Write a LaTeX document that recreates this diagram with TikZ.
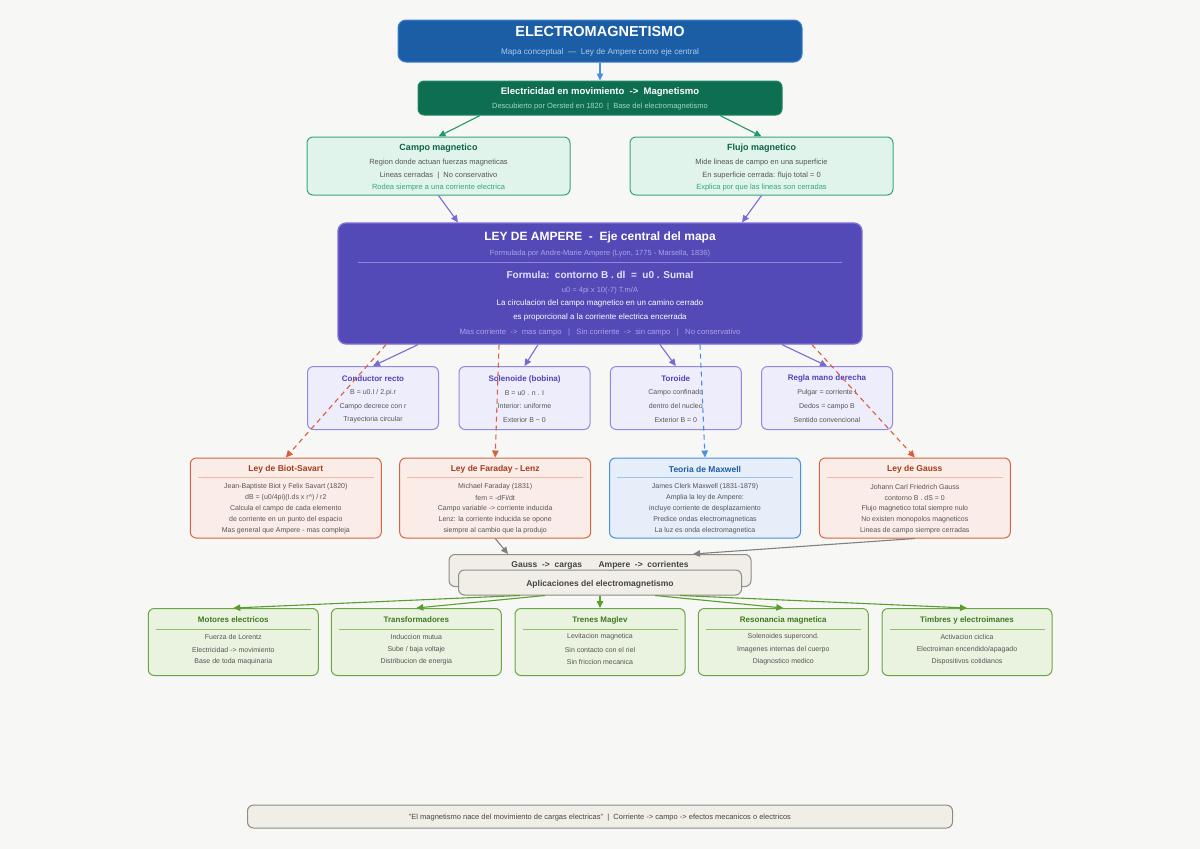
\documentclass[tikz,border=0pt]{standalone}
\usepackage{fontspec}
\setmainfont{Liberation Sans}
\usetikzlibrary{arrows.meta}
\definecolor{bg}{HTML}{F7F7F5}
\definecolor{tblue}{HTML}{1B5EA6}
\definecolor{tblueb}{HTML}{3A82D2}
\definecolor{tbluesub}{HTML}{A9CBF0}
\definecolor{ablue}{HTML}{4A90E2}
\definecolor{dgreen}{HTML}{0E6E52}
\definecolor{dgreenb}{HTML}{1F8A63}
\definecolor{dgreensub}{HTML}{9ED8BE}
\definecolor{agreen}{HTML}{1E9A6A}
\definecolor{cfill}{HTML}{E1F4EC}
\definecolor{cborder}{HTML}{3AA57D}
\definecolor{ctitle}{HTML}{0E6048}
\definecolor{cgreen}{HTML}{2DAA78}
\definecolor{txgray}{HTML}{555555}
\definecolor{pfill}{HTML}{534AB7}
\definecolor{pborder}{HTML}{7C70DA}
\definecolor{parrow}{HTML}{7B6AD6}
\definecolor{psub}{HTML}{A9A3E8}
\definecolor{pform}{HTML}{E4E1FF}
\definecolor{pline}{HTML}{8E86DC}
\definecolor{sfill}{HTML}{EEEDFB}
\definecolor{sborder}{HTML}{9389E0}
\definecolor{stitle}{HTML}{4F44B3}
\definecolor{rdash}{HTML}{D95F3B}
\definecolor{rfill}{HTML}{FAEDE7}
\definecolor{rborder}{HTML}{D8643F}
\definecolor{rtitle}{HTML}{A83A1C}
\definecolor{rsep}{HTML}{F1B7A2}
\definecolor{bfill}{HTML}{E5EEF9}
\definecolor{bsep}{HTML}{9BC3EE}
\definecolor{gfill}{HTML}{F1EEE7}
\definecolor{gborder}{HTML}{8C8C8C}
\definecolor{gtext}{HTML}{444444}
\definecolor{garrow}{HTML}{808080}
\definecolor{lfill}{HTML}{EAF3E0}
\definecolor{lborder}{HTML}{6BA644}
\definecolor{ltitle}{HTML}{3D7A1F}
\definecolor{lsep}{HTML}{8CBF66}
\definecolor{larrow}{HTML}{5A9E2F}
\newcommand{\fz}[1]{\fontsize{#1}{#1}\selectfont}
\begin{document}
\begin{tikzpicture}[x=1pt,y=-1pt,
  box/.style n args={2}{draw=#2,fill=#1,rounded corners=6pt,line width=1pt,inner sep=0pt},
  tx/.style={inner sep=0pt,anchor=center,yshift=-0.7pt},
  arr/.style={-{Triangle[length=7pt,width=6.5pt]},line width=1.1pt},
  dsh/.style={arr,dash pattern=on 5pt off 4pt},
  smallbox/.style={box={sfill}{sborder},minimum width=131pt,minimum height=63pt},
  redbox/.style={box={rfill}{rborder},minimum width=191pt,minimum height=80pt},
  appbox/.style={box={lfill}{lborder},minimum width=170pt,minimum height=67pt},
  sttl/.style={tx,font=\fz{8}\bfseries,text=stitle},
  stx/.style={tx,font=\fz{7},text=txgray},
  rttl/.style={tx,font=\fz{8.5}\bfseries,text=rtitle},
  lttl/.style={tx,font=\fz{8}\bfseries,text=ltitle},
]
\fill[bg] (0,0) rectangle (1200,849);
\useasboundingbox (0,0) rectangle (1200,849);

% ---- title
\node[box={tblue}{tblueb},rounded corners=8pt,minimum width=404pt,minimum height=42pt] (title) at (600,41) {};
\node[tx,font=\fz{14.5}\bfseries,text=white] (titlet) at (600,30.5) {ELECTROMAGNETISMO};
\node[tx,font=\fz{8.2},text=tbluesub] (titles) at (600,51.5) {Mapa conceptual~~—~~Ley de Ampere como eje central};

% ---- green header
\node[box={dgreen}{dgreenb},minimum width=364pt,minimum height=34pt] (elec) at (600,98) {};
\node[tx,font=\fz{9.5}\bfseries,text=white] (elect) at (600,91) {Electricidad en movimiento~~->~~Magnetismo};
\node[tx,font=\fz{7.5},text=dgreensub] (elecs) at (600,105.5) {Descubierto por Oersted en 1820~~|~~Base del electromagnetismo};

% ---- campo / flujo
\node[box={cfill}{cborder},minimum width=263pt,minimum height=58pt] (campo) at (438.5,166) {};
\node[tx,font=\fz{9}\bfseries,text=ctitle] (campot) at (438.5,147) {Campo magnetico};
\node[tx,font=\fz{7.5},text=txgray] (campo1) at (438.5,162) {Region donde actuan fuerzas magneticas};
\node[tx,font=\fz{7.5},text=txgray] (campo2) at (438.5,175) {Lineas cerradas~~|~~No conservativo};
\node[tx,font=\fz{7.5},text=cgreen] (campo3) at (438.5,187) {Rodea siempre a una corriente electrica};

\node[box={cfill}{cborder},minimum width=263pt,minimum height=58pt] (flujo) at (761.5,166) {};
\node[tx,font=\fz{9}\bfseries,text=ctitle] (flujot) at (761.5,147) {Flujo magnetico};
\node[tx,font=\fz{7.5},text=txgray] (flujo1) at (761.5,162) {Mide lineas de campo en una superficie};
\node[tx,font=\fz{7.5},text=txgray] (flujo2) at (761.5,175) {En superficie cerrada: flujo total = 0};
\node[tx,font=\fz{7.5},text=cgreen] (flujo3) at (761.5,187) {Explica por que las lineas son cerradas};

% ---- ampere
\node[box={pfill}{pborder},line width=1.3pt,rounded corners=8pt,minimum width=524pt,minimum height=121pt] (amp) at (600,283.5) {};
\node[tx,font=\fz{12}\bfseries,text=white] (ampt) at (600,236.8) {LEY DE AMPERE~~-~~Eje central del mapa};
\node[tx,font=\fz{7.5},text=psub] (amps) at (600,253.3) {Formulada por Andre-Marie Ampere (Lyon, 1775 - Marsella, 1836)};
\coordinate (ampl1) at (358,262);
\coordinate (ampl2) at (842,262);
\draw[pline,line width=0.9pt] (ampl1) -- (ampl2);
\node[tx,font=\fz{10}\bfseries,text=pform] (ampf) at (600,274) {Formula:~~contorno B . dl~~=~~u0 . SumaI};
\node[tx,font=\fz{7.5},text=psub] (ampu) at (600,289.5) {u0 = 4pi x 10(-7) T.m/A};
\node[tx,font=\fz{8},text=white] (ampa) at (600,303) {La circulacion del campo magnetico en un camino cerrado};
\node[tx,font=\fz{8},text=white] (ampb) at (600,316.5) {es proporcional a la corriente electrica encerrada};
\node[tx,font=\fz{7.7},text=psub] (ampc) at (600,332) {Mas corriente~~->~~mas campo~~~|~~~Sin corriente~~->~~sin campo~~~|~~~No conservativo};

% ---- small purple boxes
\node[smallbox] (cond) at (373,398) {};
\node[sttl] (condt) at (373,377.5) {Conductor recto};
\node[stx] (cond1) at (373,392) {B = u0.I / 2.pi.r};
\node[stx] (cond2) at (373,405.5) {Campo decrece con r};
\node[stx] (cond3) at (373,419) {Trayectoria circular};

\node[smallbox] (sol) at (524.5,398) {};
\node[sttl] (solt) at (524.5,378.3) {Solenoide (bobina)};
\node[stx] (sol1) at (524.5,392) {B = u0 . n . I};
\node[stx] (sol2) at (524.5,405.5) {Interior: uniforme};
\node[stx] (sol3) at (524.5,419) {Exterior B \textasciitilde{} 0};

\node[smallbox] (tor) at (675.8,398) {};
\node[sttl] (tort) at (675.8,377.5) {Toroide};
\node[stx] (tor1) at (675.8,392) {Campo confinado};
\node[stx] (tor2) at (675.8,405.5) {dentro del nucleo};
\node[stx] (tor3) at (675.8,419) {Exterior B = 0};

\node[smallbox] (reg) at (827,398) {};
\node[sttl] (regt) at (827,377.5) {Regla mano derecha};
\node[stx] (reg1) at (827,392) {Pulgar = corriente I};
\node[stx] (reg2) at (827,405.5) {Dedos = campo B};
\node[stx] (reg3) at (827,419) {Sentido convencional};

% ---- red / blue boxes
\node[redbox] (biot) at (285.8,498) {};
\node[rttl] (biott) at (285.8,468.3) {Ley de Biot-Savart};
\draw[rsep,line width=1pt] ([xshift=8pt,yshift=-20pt]biot.north west) -- ([xshift=-8pt,yshift=-20pt]biot.north east);
\node[stx] (biot1) at (285.8,486) {Jean-Baptiste Biot y Felix Savart (1820)};
\node[stx] (biot2) at (285.8,497) {dB = (u0/4pi)(I.ds x r\textasciicircum) / r2};
\node[stx] (biot3) at (285.8,508) {Calcula el campo de cada elemento};
\node[stx] (biot4) at (285.8,519) {de corriente en un punto del espacio};
\node[stx] (biot5) at (285.8,530) {Mas general que Ampere - mas compleja};

\node[redbox] (far) at (495.2,498) {};
\node[rttl] (fart) at (495.2,468.3) {Ley de Faraday - Lenz};
\draw[rsep,line width=1pt] ([xshift=8pt,yshift=-20pt]far.north west) -- ([xshift=-8pt,yshift=-20pt]far.north east);
\node[stx] (far1) at (495.2,486) {Michael Faraday (1831)};
\node[stx] (far2) at (495.2,497) {fem = -dFi/dt};
\node[stx] (far3) at (495.2,508) {Campo variable -> corriente inducida};
\node[stx] (far4) at (495.2,519) {Lenz: la corriente inducida se opone};
\node[stx] (far5) at (495.2,530) {siempre al cambio que la produjo};

\node[box={bfill}{ablue},minimum width=191pt,minimum height=80pt] (max) at (705,498) {};
\node[tx,font=\fz{8.5}\bfseries,text=tblue] (maxt) at (705,468.3) {Teoria de Maxwell};
\draw[bsep,line width=1pt] ([xshift=8pt,yshift=-20pt]max.north west) -- ([xshift=-8pt,yshift=-20pt]max.north east);
\node[stx] (max1) at (705,486) {James Clerk Maxwell (1831-1879)};
\node[stx] (max2) at (705,497) {Amplia la ley de Ampere:};
\node[stx] (max3) at (705,508) {incluye corriente de desplazamiento};
\node[stx] (max4) at (705,519) {Predice ondas electromagneticas};
\node[stx] (max5) at (705,530) {La luz es onda electromagnetica};

\node[redbox] (gau) at (914.8,498) {};
\node[rttl] (gaut) at (914.8,468.3) {Ley de Gauss};
\draw[rsep,line width=1pt] ([xshift=8pt,yshift=-20pt]gau.north west) -- ([xshift=-8pt,yshift=-20pt]gau.north east);
\node[stx] (gau1) at (914.8,486) {Johann Carl Friedrich Gauss};
\node[stx] (gau2) at (914.8,497) {contorno B . dS = 0};
\node[stx] (gau3) at (914.8,508) {Flujo magnetico total siempre nulo};
\node[stx] (gau4) at (914.8,519) {No existen monopolos magneticos};
\node[stx] (gau5) at (914.8,530) {Lineas de campo siempre cerradas};

% ---- gauss/ampere + aplicaciones
\node[box={gfill}{gborder},minimum width=302pt,minimum height=32pt] (ga) at (600,570.5) {};
\node[tx,font=\fz{8.5}\bfseries,text=gtext] (gat) at (600,565) {Gauss~~->~~cargas~~~~~~~Ampere~~->~~corrientes};
\node[box={gfill}{gborder},minimum width=283pt,minimum height=25pt] (apl) at (600,582.5) {};
\node[tx,font=\fz{8.5}\bfseries,text=gtext] (aplt) at (600,583.5) {Aplicaciones del electromagnetismo};

% ---- application boxes
\node[appbox] (mot) at (233.3,642) {};
\node[lttl] (mott) at (233.3,619.3) {Motores electricos};
\draw[lsep,line width=1pt] ([xshift=8pt,yshift=-21pt]mot.north west) -- ([xshift=-8pt,yshift=-21pt]mot.north east);
\node[stx] (mot1) at (233.3,636.3) {Fuerza de Lorentz};
\node[stx] (mot2) at (233.3,649) {Electricidad -> movimiento};
\node[stx] (mot3) at (233.3,661.3) {Base de toda maquinaria};

\node[appbox] (tra) at (416.3,642) {};
\node[lttl] (trat) at (416.3,619.3) {Transformadores};
\draw[lsep,line width=1pt] ([xshift=8pt,yshift=-21pt]tra.north west) -- ([xshift=-8pt,yshift=-21pt]tra.north east);
\node[stx] (tra1) at (416.3,636.3) {Induccion mutua};
\node[stx] (tra2) at (416.3,649) {Sube / baja voltaje};
\node[stx] (tra3) at (416.3,661.3) {Distribucion de energia};

\node[appbox] (tre) at (600,642) {};
\node[lttl] (tret) at (600,619.3) {Trenes Maglev};
\draw[lsep,line width=1pt] ([xshift=8pt,yshift=-21pt]tre.north west) -- ([xshift=-8pt,yshift=-21pt]tre.north east);
\node[stx] (tre1) at (600,636.3) {Levitacion magnetica};
\node[stx] (tre2) at (600,649) {Sin contacto con el riel};
\node[stx] (tre3) at (600,661.3) {Sin friccion mecanica};

\node[appbox] (res) at (783.3,642) {};
\node[lttl] (rest) at (783.3,619.3) {Resonancia magnetica};
\draw[lsep,line width=1pt] ([xshift=8pt,yshift=-21pt]res.north west) -- ([xshift=-8pt,yshift=-21pt]res.north east);
\node[stx] (res1) at (783.3,636.3) {Solenoides supercond.};
\node[stx] (res2) at (783.3,649) {Imagenes internas del cuerpo};
\node[stx] (res3) at (783.3,661.3) {Diagnostico medico};

\node[appbox] (tim) at (967,642) {};
\node[lttl] (timt) at (967,619.3) {Timbres y electroimanes};
\draw[lsep,line width=1pt] ([xshift=8pt,yshift=-21pt]tim.north west) -- ([xshift=-8pt,yshift=-21pt]tim.north east);
\node[stx] (tim1) at (967,636.3) {Activacion ciclica};
\node[stx] (tim2) at (967,649) {Electroiman encendido/apagado};
\node[stx] (tim3) at (967,661.3) {Dispositivos cotidianos};

% ---- footer
\node[box={gfill}{gborder},minimum width=705pt,minimum height=23pt] (foot) at (600,816.5) {};
\node[tx,font=\fz{7.5},text=gtext] (foott) at (600,817) {"El magnetismo nace del movimiento de cargas electricas"~~|~~Corriente -> campo -> efectos mecanicos o electricos};

% ---- connectors
\draw[arr,ablue] (title.south) -- (elec.north);
\draw[arr,agreen] ([xshift=-120pt]elec.south) -- (campo.north);
\draw[arr,agreen] ([xshift=120pt]elec.south) -- (flujo.north);
\draw[arr,parrow] (campo.south) -- ([xshift=-142pt]amp.north);
\draw[arr,parrow] (flujo.south) -- ([xshift=142pt]amp.north);
\draw[arr,parrow] ([xshift=-182pt]amp.south) -- (cond.north);
\draw[arr,parrow] ([xshift=-62pt]amp.south) -- (sol.north);
\draw[arr,parrow] ([xshift=60pt]amp.south) -- (tor.north);
\draw[arr,parrow] ([xshift=182pt]amp.south) -- (reg.north);
\draw[dsh,rdash] ([xshift=-214pt]amp.south) -- (biot.north);
\draw[dsh,rdash] ([xshift=-101pt]amp.south) -- (far.north);
\draw[dsh,ablue] ([xshift=100pt]amp.south) -- (max.north);
\draw[dsh,rdash] ([xshift=212pt]amp.south) -- (gau.north);
\draw[arr,garrow] (far.south) -- ([xshift=-92pt]ga.north);
\draw[arr,garrow] (gau.south) -- ([xshift=93pt]ga.north);
\draw[arr,larrow] ([xshift=-80pt]apl.south) -- (mot.north);
\draw[arr,larrow] ([xshift=-55pt]apl.south) -- (tra.north);
\draw[arr,larrow] (apl.south) -- (tre.north);
\draw[arr,larrow] ([xshift=55pt]apl.south) -- (res.north);
\draw[arr,larrow] ([xshift=80pt]apl.south) -- (tim.north);
\end{tikzpicture}
\end{document}
